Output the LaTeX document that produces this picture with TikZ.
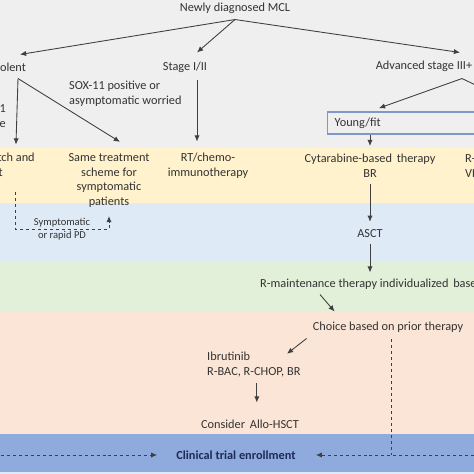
\documentclass[tikz,border=0pt]{standalone}
\usepackage{fontspec}
\setmainfont{Carlito}
\usepackage{xcolor}
\usetikzlibrary{calc,positioning,arrows.meta}

\definecolor{bggray}{HTML}{EFEFEF}
\definecolor{bandyellow}{HTML}{FFF2CC}
\definecolor{bandblue}{HTML}{DEEBF7}
\definecolor{bandgreen}{HTML}{E2F0D9}
\definecolor{bandpeach}{HTML}{FBE5D6}
\definecolor{banddark}{HTML}{8FAADC}
\definecolor{boxblue}{HTML}{7F98C9}
\definecolor{txtgray}{HTML}{333333}
\definecolor{linegray}{HTML}{404040}
\definecolor{navy}{HTML}{1F2A56}

\begin{document}
\begin{tikzpicture}[x=0.02cm, y=-0.02cm,
                    every node/.style = {font=\fontsize{7}{8.5}\selectfont, text=txtgray},
                    marrow/.style = {draw=linegray, line width=0.5pt, -{Latex[width=3pt, length=3.5pt]}},
                    darrow/.style = {marrow, dash pattern=on 1.7pt off 1.7pt},
                    dline/.style = {draw=linegray, line width=0.5pt, dash pattern=on 1.7pt off 1.7pt},
                    smalltxt/.style = {font=\fontsize{6}{7}\selectfont, align=center}
                ]

                \useasboundingbox (0,0) rectangle (474,474);
                \clip (0,0) rectangle (474,474);

                % bands
                \fill[bggray] (0,0) rectangle (474,148);
                \fill[bandyellow] (0,148) rectangle (474,203);
                \fill[bandblue] (0,203) rectangle (474,262);
                \fill[bandgreen] (0,262) rectangle (474,312);
                \fill[bandpeach] (0,312) rectangle (474,434);
                \fill[banddark] (0,434) rectangle (474,472);
                \fill[bandblue] (0,472) rectangle (474,474);

                \node (nd) at (235,8) {Newly diagnosed MCL};
                \node (ind) at (5,67) {Indolent};
                \node (st12) at (185,67) {Stage I/II};
                \node (adv) at (424,66) {Advanced stage III+};

                \node[align=left, anchor=west] (sox) at (63,93.5) {SOX-11 positive or\\asymptomatic worried};
                \node[align=right, anchor=east] (soxn) at (12,117) {SOX-11\\negative};

                \node[draw=boxblue, line width=0.8pt, fill=bggray, anchor=west, minimum height=0.44cm,
                      text width=5cm, inner xsep=0.14cm, align=left] (yf) at (327,123) {Young/fit};

                \node[align=left, anchor=west] (ww) at (-25,164.5) {Watch and\\wait};
                \node[align=center] (same) at (109,180.5) {Same treatment\\scheme for\\symptomatic\\patients};
                \node[align=center] (rt) at (208,165.5) {RT/chemo-\\immunotherapy};
                \node[align=center] (cyt) at (370,166) {Cytarabine-based\, therapy\\BR};
                \node[align=left, anchor=west] (rch) at (459,166) {R-CHOP\\VR-CAP};

                \node (asct) at (370,234) {ASCT};
                \node[anchor=west] (rm) at (254,284) {R-maintenance therapy individualized\, based on age};
                \node (ch) at (388,327) {Choice based on prior therapy};
                \node[align=left, anchor=west] (ib) at (201,364.5) {Ibrutinib\\R-BAC, R-CHOP, BR};
                \node (allo) at (250,424) {Consider\, Allo-HSCT};
                \node[font=\fontsize{7}{8.5}\selectfont\bfseries, text=navy] (ct) at (236,455) {Clinical trial enrollment};

                \coordinate (indb) at ($(ind.south)+(13,1)$);
                \coordinate (advb) at ($(adv.south)+(38,1)$);
                \coordinate (ibb) at ($(ib.south)+(3,0)$);
                \coordinate (chb) at ($(ch.south)+(3,1)$);
                \coordinate (oldfit) at (530,111);
                \coordinate (ctl) at (-5,455);
                \coordinate (ctr) at (480,455);

                \draw[marrow] (nd.south) -- ($(ind.north)+(15,-2)$);
                \draw[marrow] (nd.south) -- ($(st12.north)+(12,-3)$);
                \draw[marrow] (nd.south) -- ($(adv.north)+(36,-2)$);

                \draw[marrow] (indb) -- ($(ww.north)+(8,-2)$);
                \draw[marrow] (indb) -- ($(same.north)+(11,-5)$);
                \draw[marrow] ($(st12.south)+(12,1)$) -- ($(rt.north)+(-11,-5)$);

                \draw[marrow] (advb) -- ($(yf.north west)+(52,-3)$);
                \draw[marrow] (advb) -- (oldfit);
                \draw[marrow] (cyt.north |- yf.south) -- ($(cyt.north)+(0,-2)$);

                \draw[darrow] ($(ww.south)+(7,10)$) |- node[pos=0.75, smalltxt] (sym) {Symptomatic\\or rapid PD}
                    ($(same.south)+(0,15)$) -- ($(same.south)+(0,2)$);

                \draw[marrow] (cyt.south) -- ($(asct.north)+(0,-2)$);
                \draw[marrow] (asct.south) -- (asct.south |- rm.north);
                \draw[marrow] ($(rm.south west)+(66,-1)$) -- ($(ch.north west)+(28,-4)$);
                \draw[marrow] (ch.south west) -- ($(ib.north west)+(86,8)$);
                \draw[marrow, shorten >=0.22cm] (ibb) -- (ibb |- allo.north);

                \draw[dline] (chb) -- (chb |- ct.east);
                \draw[darrow, shorten >=0.28cm] (ctr) -- (ct.east);
                \draw[darrow, shorten >=0.26cm] (ctl) -- (ct.west);

            \end{tikzpicture}
\end{document}
